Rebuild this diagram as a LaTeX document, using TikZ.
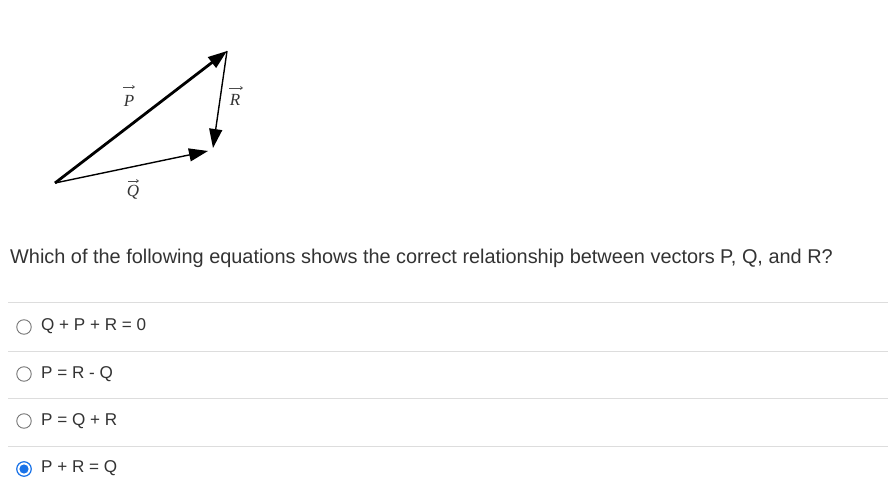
\documentclass[tikz,border=0pt]{standalone}
\usepackage{fontspec}
\setmainfont{Liberation Sans}
\newfontfamily\veclabfont{Liberation Serif}
\usetikzlibrary{arrows.meta}
\definecolor{txt}{HTML}{333333}
\definecolor{rule}{HTML}{DDDDDD}
\definecolor{radio}{HTML}{767676}
\definecolor{sel}{HTML}{1A73E8}
\begin{document}
\begin{tikzpicture}[x=1pt,y=-1pt,
  vec/.style={line width=1.4pt,-{Triangle[length=19pt,width=13pt]}},
  vecthick/.style={line width=2.8pt,-{Triangle[length=19pt,width=13pt]}},
  vlab/.style={font=\veclabfont\itshape\fontsize{17}{17}\selectfont, inner sep=0pt, text=black!80},
  vbar/.style={line width=0.8pt, black!70, -{Straight Barb[length=2pt,width=3pt]}},
  question/.style={anchor=west,text=txt,font=\fontsize{19.9}{20}\selectfont,inner sep=0pt},
  option/.style={anchor=west,text=txt,font=\fontsize{17.1}{17}\selectfont,inner sep=0pt},
  hrule/.style={draw=rule,line width=1pt},
  radiobtn/.style={circle,draw=radio,line width=0.9pt,minimum size=14.5pt,inner sep=0pt}]
\useasboundingbox[fill=white] (0,0) rectangle (896,502);
% vector triangle
\coordinate (O) at (55,183);
\coordinate (A) at (227,51);
\coordinate (Qe) at (208,151);
\coordinate (Re) at (213,148);
\draw[vecthick] (O) -- (A);
\draw[vec] (O) -- (Qe);
\draw[vec] (A) -- (Re);
\node[vlab] (lp) at (129,101) {P};
\node[vlab] (lr) at (235,100) {R};
\node[vlab] (lq) at (133,192) {Q};
\coordinate (pa) at (123,87); \coordinate (pb) at (135,87);
\coordinate (ra) at (229,88); \coordinate (rb) at (243,88);
\coordinate (qa) at (128,181); \coordinate (qb) at (139,181);
\draw[vbar] (pa) -- (pb);
\draw[vbar] (ra) -- (rb);
\draw[vbar] (qa) -- (qb);
% question
\node[question] (q) at (10,258) {Which of the following equations shows the correct relationship between vectors P, Q, and R?};
% rules
\coordinate (l1a) at (8,303); \coordinate (l1b) at (888,303);
\coordinate (l2a) at (8,351); \coordinate (l2b) at (888,351);
\coordinate (l3a) at (8,398); \coordinate (l3b) at (888,398);
\coordinate (l4a) at (8,446); \coordinate (l4b) at (888,446);
\draw[hrule] (l1a) -- (l1b);
\draw[hrule] (l2a) -- (l2b);
\draw[hrule] (l3a) -- (l3b);
\draw[hrule] (l4a) -- (l4b);
% options
\node[radiobtn] (r1) at (24,327) {};
\node[radiobtn] (r2) at (24,374) {};
\node[radiobtn] (r3) at (24,421) {};
\node[radiobtn,draw=sel,line width=1.2pt] (r4) at (24,469) {};
\fill[sel] (r4.center) circle (4.6pt);
\node[option] (o1) at (41,326) {Q + P + R = 0};
\node[option] (o2) at (41,374) {P = R - Q};
\node[option] (o3) at (41,421) {P = Q + R};
\node[option] (o4) at (41,468) {P + R = Q};
\end{tikzpicture}
\end{document}
